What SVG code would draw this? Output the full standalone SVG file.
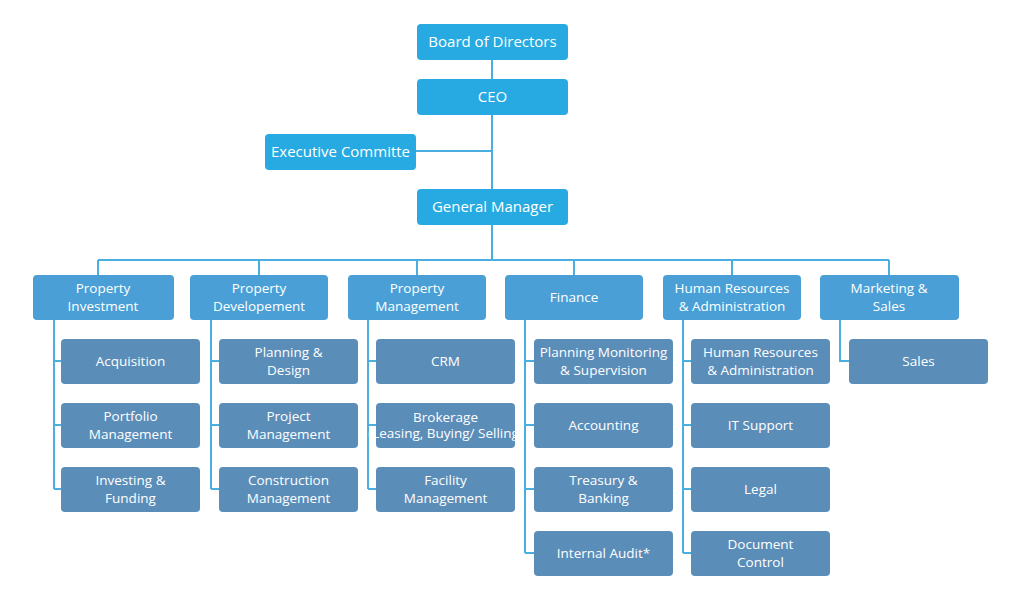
<svg xmlns="http://www.w3.org/2000/svg" width="1024" height="597" viewBox="0 0 1024 597">
<style>
text{font-family:"Open Sans","Liberation Sans",sans-serif;fill:#fff;text-anchor:middle}
.t rect{fill:#27aae1}
.t text{font-size:15px}
.d rect{fill:#4a9fd6}
.d text,.s text{font-size:13.5px}
.s rect{fill:#5b8db9}
.sm{font-size:10.5px}
#conn path{stroke:#4aaee0;stroke-width:2;fill:none}
</style>
<rect width="1024" height="597" fill="#fff"/>
<g id="conn">
<path d="M492 59V189M416 151H492M492 224V260M98 260H889M98 260V275M259 260V275M417 260V275M574 260V275M732 260V275M889 260V275"/>
<path d="M54 319V489M54 361H61M54 425H61M54 489H61"/>
<path d="M211 319V489M211 361H219M211 425H219M211 489H219"/>
<path d="M368 319V489M368 361H376M368 425H376M368 489H376"/>
<path d="M525 319V553M525 361H534M525 425H534M525 489H534M525 553H534"/>
<path d="M683 319V553M683 361H691M683 425H691M683 489H691M683 553H691"/>
<path d="M840 319V361H849"/>
</g>
<g id="board" class="t"><rect x="417" y="24" width="151" height="36" rx="4"/><text x="492.5" y="47">Board of Directors</text></g>
<g id="ceo" class="t"><rect x="417" y="79" width="151" height="36" rx="4"/><text x="492.5" y="102">CEO</text></g>
<g id="exec" class="t"><rect x="265" y="134" width="151" height="36" rx="4"/><text x="340.5" y="157">Executive Committe</text></g>
<g id="gm" class="t"><rect x="417" y="189" width="151" height="36" rx="4"/><text x="492.5" y="212">General Manager</text></g>

<g id="pi" class="d"><rect x="33" y="275" width="141" height="45" rx="4"/><text x="103" y="293">Property</text><text x="103" y="311">Investment</text></g>
<g id="pd" class="d"><rect x="190" y="275" width="138" height="45" rx="4"/><text x="259" y="293">Property</text><text x="259" y="311">Developement</text></g>
<g id="pm" class="d"><rect x="348" y="275" width="138" height="45" rx="4"/><text x="417" y="293">Property</text><text x="417" y="311">Management</text></g>
<g id="fin" class="d"><rect x="505" y="275" width="138" height="45" rx="4"/><text x="574" y="302">Finance</text></g>
<g id="hr" class="d"><rect x="663" y="275" width="138" height="45" rx="4"/><text x="732" y="293">Human Resources</text><text x="732" y="311">&amp; Administration</text></g>
<g id="ms" class="d"><rect x="820" y="275" width="139" height="45" rx="4"/><text x="889" y="293">Marketing &amp;</text><text x="889" y="311">Sales</text></g>

<g id="acq" class="s"><rect x="61" y="339" width="139" height="45" rx="4"/><text x="130.5" y="366">Acquisition</text></g>
<g id="port" class="s"><rect x="61" y="403" width="139" height="45" rx="4"/><text x="130.5" y="421">Portfolio</text><text x="130.5" y="439">Management</text></g>
<g id="inv" class="s"><rect x="61" y="467" width="139" height="45" rx="4"/><text x="130.5" y="485">Investing &amp;</text><text x="130.5" y="503">Funding</text></g>

<g id="plan" class="s"><rect x="219" y="339" width="139" height="45" rx="4"/><text x="288.5" y="357">Planning &amp;</text><text x="288.5" y="375">Design</text></g>
<g id="proj" class="s"><rect x="219" y="403" width="139" height="45" rx="4"/><text x="288.5" y="421">Project</text><text x="288.5" y="439">Management</text></g>
<g id="cons" class="s"><rect x="219" y="467" width="139" height="45" rx="4"/><text x="288.5" y="485">Construction</text><text x="288.5" y="503">Management</text></g>

<g id="crm" class="s"><rect x="376" y="339" width="139" height="45" rx="4"/><text x="445.5" y="366">CRM</text></g>
<g id="brok" class="s"><rect x="376" y="403" width="139" height="45" rx="4"/><text x="445.5" y="422">Brokerage</text><text class="sm" x="445.5" y="438">(Leasing, Buying/ Selling)</text></g>
<g id="fac" class="s"><rect x="376" y="467" width="139" height="45" rx="4"/><text x="445.5" y="485">Facility</text><text x="445.5" y="503">Management</text></g>

<g id="pms" class="s"><rect x="534" y="339" width="139" height="45" rx="4"/><text x="603.5" y="357">Planning Monitoring</text><text x="603.5" y="375">&amp; Supervision</text></g>
<g id="acc" class="s"><rect x="534" y="403" width="139" height="45" rx="4"/><text x="603.5" y="430">Accounting</text></g>
<g id="tre" class="s"><rect x="534" y="467" width="139" height="45" rx="4"/><text x="603.5" y="485">Treasury &amp;</text><text x="603.5" y="503">Banking</text></g>
<g id="aud" class="s"><rect x="534" y="531" width="139" height="45" rx="4"/><text x="603.5" y="558">Internal Audit*</text></g>

<g id="hra" class="s"><rect x="691" y="339" width="139" height="45" rx="4"/><text x="760.5" y="357">Human Resources</text><text x="760.5" y="375">&amp; Administration</text></g>
<g id="it" class="s"><rect x="691" y="403" width="139" height="45" rx="4"/><text x="760.5" y="430">IT Support</text></g>
<g id="legal" class="s"><rect x="691" y="467" width="139" height="45" rx="4"/><text x="760.5" y="494">Legal</text></g>
<g id="doc" class="s"><rect x="691" y="531" width="139" height="45" rx="4"/><text x="760.5" y="549">Document</text><text x="760.5" y="567">Control</text></g>

<g id="sales" class="s"><rect x="849" y="339" width="139" height="45" rx="4"/><text x="918.5" y="366">Sales</text></g>
</svg>
